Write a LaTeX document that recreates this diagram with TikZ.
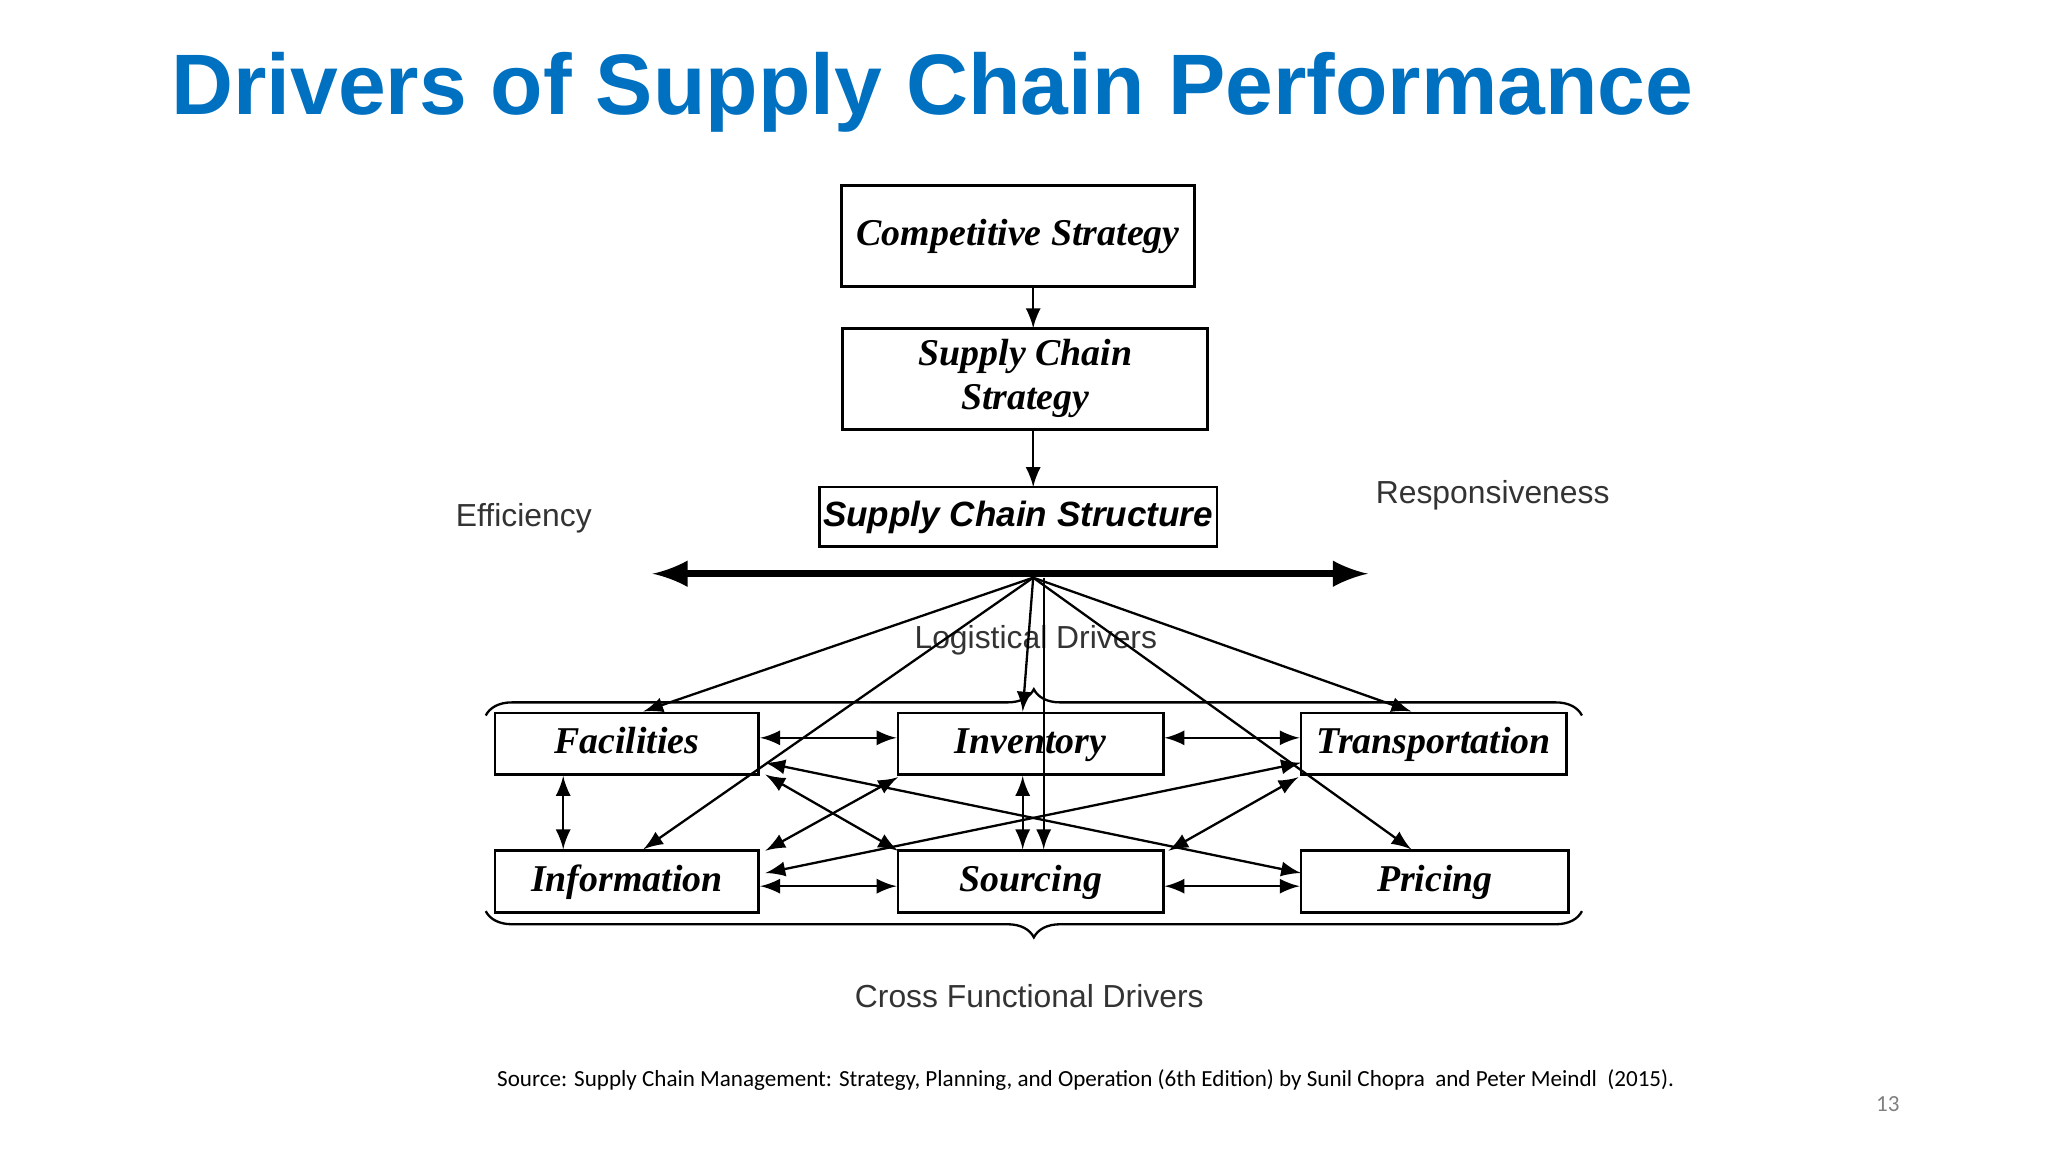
\documentclass[tikz,border=0pt]{standalone}
\usepackage{fontspec}
\setmainfont{Liberation Serif}
\setsansfont{Liberation Sans}
\newfontfamily\srcfont{Carlito}
\usetikzlibrary{decorations.pathreplacing,calc}
\definecolor{titleblue}{RGB}{0,112,192}
\tikzset{
  box/.style={draw, line width=0.6pt, minimum height=47\unitpx, font=\fontsize{8.2}{9.5}\selectfont\bfseries\itshape, align=center, inner sep=0pt, text height=6pt, text depth=1.8pt},
  lbl/.style={font=\sffamily\fontsize{6.9}{8}\selectfont, text=black!80},
  arr/.style={-latex, line width=0.5pt},
  darr/.style={latex-latex, line width=0.5pt},
  brc/.style={decorate, decoration={brace, amplitude=20\unitpx}, line width=0.5pt},
}
\def\unitpx{*0.01cm}
\begin{document}
\begin{tikzpicture}[x=0.01cm, y=-0.01cm]
\useasboundingbox (0,0) rectangle (1560,877.5);

\node[anchor=west, text=titleblue, font=\sffamily\bfseries\fontsize{18.6}{22}\selectfont] (title) at (118,70) {Drivers of Supply Chain Performance};

% strategy boxes
\node[box, minimum width=269\unitpx, minimum height=77\unitpx] (cs) at (775.5,179.5) {Competitive Strategy};
\node[box, minimum width=278\unitpx, minimum height=77\unitpx, text height=, text depth=] (scs) at (781,288.5) {Supply Chain\\Strategy};
\node[box, minimum width=303\unitpx, minimum height=45\unitpx, font=\sffamily\fontsize{7.6}{9}\selectfont\bfseries\itshape] (str) at (775.5,393.5) {Supply Chain Structure};

\draw[arr] (787,218) -- (787,250);
\draw[arr] (787,327) -- (787,371);

\node[lbl] (eff) at (399,395) {Efficiency};
\node[lbl] (resp) at (1137,377) {Responsiveness};

% efficiency - responsiveness axis
\coordinate (left) at (497,437);
\coordinate (right) at (1042,437);
\draw[-latex, line width=1.6pt] (787,437) -- (left);
\draw[-latex, line width=1.6pt] (787,437) -- (right);
\coordinate (hub) at (787,440);

\node[lbl] (log) at (789,488) {Logistical Drivers};
\draw[brc] (370,545) -- (1205,545);

% driver boxes
\node[box, minimum width=201\unitpx] (fac) at (477.5,566.5) {Facilities};
\node[box, minimum width=202\unitpx] (inv) at (785,566.5) {Inventory};
\node[box, minimum width=202\unitpx] (tra) at (1092,566.5) {Transportation};
\node[box, minimum width=201\unitpx] (inf) at (477.5,671.5) {Information};
\node[box, minimum width=202\unitpx] (sou) at (785,671.5) {Sourcing};
\node[box, minimum width=204\unitpx] (pri) at (1093,671.5) {Pricing};

\draw[brc] (1205,694) -- (370,694);
\node[lbl] (cfd) at (784,759) {Cross Functional Drivers};

% from structure to drivers
\draw[arr] (hub) -- (fac.north -| 490,0);
\draw[arr] (hub) -- (inv.north -| 779,0);
\draw[arr] (hub) -- (tra.north -| 1075,0);
\draw[arr] (hub) -- (inf.north -| 490,0);
\draw[arr] (795,440) -- (sou.north -| 795,0);
\draw[arr] (hub) -- (pri.north -| 1075,0);

% between drivers
\draw[darr] (fac.east |- 0,562) -- (inv.west |- 0,562);
\draw[darr] (inv.east |- 0,562) -- (tra.west |- 0,562);
\draw[darr] (fac.south -| 429,0) -- (inf.north -| 429,0);
\draw[darr] (inv.south -| 779,0) -- (sou.north -| 779,0);
\draw[darr] (inf.east |- 0,675) -- (sou.west |- 0,675);
\draw[darr] (sou.east |- 0,675) -- (pri.west |- 0,675);
\draw[darr] (583,590) -- (684,648);
\draw[darr] (583,581) -- (991,665);
\draw[darr] (684,592) -- (583,648);
\draw[darr] (991,581) -- (583,665);
\draw[darr] (989,592) -- (890,648);

\node[font=\srcfont\fontsize{5}{6}\selectfont] (src) at (827,823) {Source: Supply Chain Management: Strategy, Planning, and Operation (6th Edition) by Sunil Chopra\ \ and Peter Meindl\ \ (2015).};
\node[font=\srcfont\fontsize{5}{6}\selectfont, text=black!50] (pg) at (1438,841) {13};
\end{tikzpicture}
\end{document}
